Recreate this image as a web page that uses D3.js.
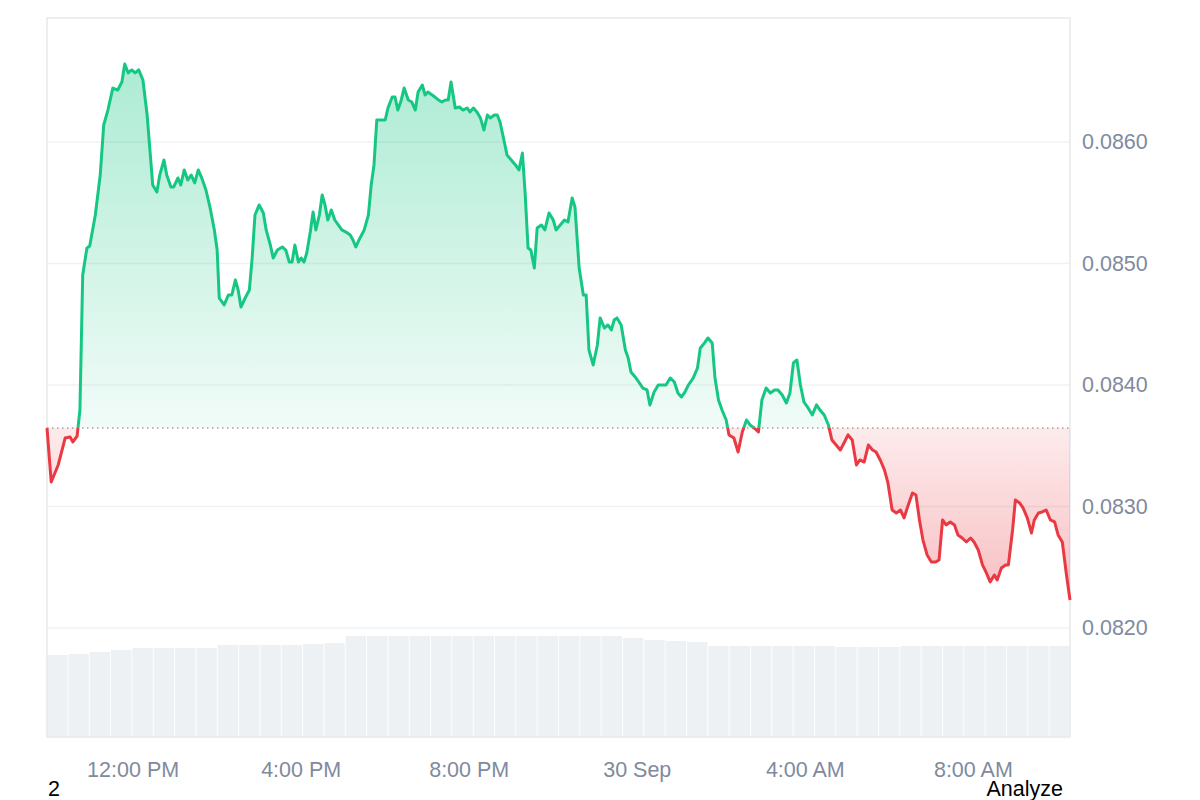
<!DOCTYPE html><html><head><meta charset="utf-8"><script src="https://cdn.jsdelivr.net/npm/d3@7"></script>
<style>body{margin:0;background:#fff}text{font-family:Arial,"Liberation Sans",sans-serif}</style></head><body><svg id="c" width="1200" height="800"></svg>
<script>
const startTime = new Date(2024,8,29,9,57);
const minutes = [0,6,16,26,33,37,43,47,51,57,61,69,76,81,87,94,101,107,111,116,121,126,131,137,143,147,151,157,161,167,171,177,181,187,191,196,201,206,211,216,221,227,233,239,243,246,253,259,264,269,273,277,283,289,293,297,303,309,313,319,323,329,336,341,346,350,354,359,363,367,371,376,380,384,389,393,397,401,406,411,416,421,427,433,437,441,447,453,459,463,467,471,477,483,487,493,497,501,506,510,516,521,526,530,536,540,544,550,554,559,564,569,573,577,583,589,594,600,604,609,614,619,624,629,633,639,643,647,651,657,663,669,674,679,683,687,691,696,700,706,711,717,723,727,733,739,744,750,754,760,766,770,774,780,786,790,796,801,806,810,814,820,826,830,834,840,846,851,857,861,867,873,879,884,890,896,901,906,911,916,923,929,933,939,944,950,954,959,964,970,974,981,987,993,999,1004,1010,1016,1021,1027,1033,1039,1044,1050,1056,1061,1066,1071,1076,1081,1087,1093,1099,1104,1110,1116,1121,1127,1133,1139,1144,1150,1156,1161,1167,1173,1179,1184,1190,1196,1201,1207,1213,1219,1224,1230,1236,1241,1246,1251,1257,1263,1269,1274,1279,1284,1290,1296,1301,1307,1313,1319,1324,1330,1336,1341,1347,1353,1357,1363,1369,1373,1379,1383,1389,1394,1400,1406,1410,1416,1421,1427,1433,1439,1444,1450,1456,1461];
const prices = [0.083646,0.083202,0.083342,0.083564,0.083572,0.083531,0.083580,0.083794,0.084905,0.085128,0.085144,0.085399,0.085728,0.086140,0.086263,0.086444,0.086428,0.086494,0.086642,0.086568,0.086593,0.086568,0.086593,0.086510,0.086222,0.085934,0.085646,0.085588,0.085728,0.085852,0.085728,0.085630,0.085630,0.085704,0.085646,0.085770,0.085687,0.085728,0.085663,0.085770,0.085704,0.085605,0.085457,0.085276,0.085111,0.084716,0.084659,0.084741,0.084741,0.084864,0.084782,0.084642,0.084716,0.084782,0.085045,0.085399,0.085482,0.085416,0.085276,0.085152,0.085045,0.085111,0.085136,0.085111,0.085012,0.085012,0.085152,0.085012,0.085045,0.085012,0.085086,0.085259,0.085424,0.085276,0.085399,0.085564,0.085482,0.085358,0.085440,0.085358,0.085317,0.085276,0.085259,0.085235,0.085193,0.085136,0.085210,0.085276,0.085399,0.085646,0.085811,0.086181,0.086181,0.086181,0.086280,0.086370,0.086370,0.086263,0.086346,0.086444,0.086346,0.086329,0.086263,0.086412,0.086469,0.086387,0.086412,0.086387,0.086370,0.086346,0.086329,0.086346,0.086346,0.086494,0.086280,0.086288,0.086263,0.086280,0.086247,0.086280,0.086247,0.086198,0.086099,0.086222,0.086198,0.086222,0.086222,0.086165,0.086058,0.085893,0.085852,0.085811,0.085770,0.085909,0.085564,0.085128,0.085111,0.084963,0.085292,0.085317,0.085276,0.085416,0.085358,0.085276,0.085317,0.085358,0.085342,0.085539,0.085465,0.084963,0.084741,0.084741,0.084288,0.084165,0.084329,0.084552,0.084469,0.084494,0.084453,0.084535,0.084552,0.084494,0.084288,0.084222,0.084107,0.084066,0.084017,0.083975,0.083959,0.083836,0.083942,0.084000,0.084000,0.084000,0.084058,0.084025,0.083934,0.083901,0.083942,0.084000,0.084058,0.084140,0.084305,0.084346,0.084387,0.084346,0.084058,0.083877,0.083794,0.083712,0.083589,0.083564,0.083449,0.083613,0.083712,0.083671,0.083646,0.083613,0.083877,0.083975,0.083934,0.083959,0.083959,0.083918,0.083852,0.083934,0.084181,0.084206,0.084000,0.083860,0.083811,0.083753,0.083836,0.083794,0.083753,0.083671,0.083547,0.083506,0.083465,0.083531,0.083589,0.083547,0.083342,0.083383,0.083366,0.083506,0.083465,0.083449,0.083383,0.083301,0.083194,0.082971,0.082947,0.082971,0.082906,0.083013,0.083111,0.083095,0.082889,0.082724,0.082601,0.082543,0.082543,0.082560,0.082889,0.082848,0.082873,0.082848,0.082766,0.082741,0.082708,0.082741,0.082708,0.082642,0.082519,0.082461,0.082379,0.082436,0.082395,0.082494,0.082519,0.082519,0.082807,0.083054,0.083029,0.082988,0.082906,0.082782,0.082889,0.082947,0.082955,0.082971,0.082889,0.082873,0.082766,0.082708,0.082436,0.082231];
const volumes = [82,83,85,87,89,89,89,89,92,92,92,92,93,94,101,101,101,101,101,101,101,101,101,101,101,101,101,99,97,96,95,91,91,91,91,91,91,90,90,90,91,91,91,91,91,91,91,91];
const yTicks = [0.0820,0.0830,0.0840,0.0850,0.0860];
const xTickTimes = [new Date(2024,8,29,12),new Date(2024,8,29,16),new Date(2024,8,29,20),new Date(2024,8,30,0),new Date(2024,8,30,4),new Date(2024,8,30,8)];
const xTickLabels = ["12:00 PM","4:00 PM","8:00 PM","30 Sep","4:00 AM","8:00 AM"];

const svg=d3.select("#c");
const L=47,R=1070,T=18,B=737;
const endTime=new Date(+startTime+minutes[minutes.length-1]*60000);
const x=d3.scaleTime().domain([startTime,endTime]).range([L,R]);
const y=d3.scaleLinear().domain([0.0820,0.0860]).range([628,142]);
const vy=d3.scaleLinear().domain([0,107]).range([B,630]);
const data=minutes.map((m,i)=>({t:new Date(+startTime+m*60000),p:prices[i]}));
const base=prices[0], by=y(base);

svg.append("g").selectAll("line").data(yTicks).join("line").attr("x1",L).attr("x2",R).attr("y1",d=>y(d)).attr("y2",d=>y(d)).attr("stroke","#eff2f5").attr("stroke-width",1.5);
const vx=d3.scaleBand().domain(d3.range(volumes.length)).range([L,R]).paddingInner(0.04);
svg.append("g").selectAll("rect").data(volumes).join("rect").attr("x",(d,i)=>vx(i)).attr("width",vx.bandwidth()).attr("y",d=>vy(d)).attr("height",d=>B-vy(d)).attr("fill","#eef1f4");
svg.append("rect").attr("x",L).attr("y",T).attr("width",R-L).attr("height",B-T).attr("fill","none").attr("stroke","#e6e9ed").attr("stroke-width",1.5);

const defs=svg.append("defs");
defs.append("clipPath").attr("id","above").append("rect").attr("x",0).attr("y",0).attr("width",1200).attr("height",by);
defs.append("clipPath").attr("id","below").append("rect").attr("x",0).attr("y",by).attr("width",1200).attr("height",800-by);
const gg=defs.append("linearGradient").attr("id","gg").attr("gradientUnits","userSpaceOnUse").attr("x1",0).attr("x2",0).attr("y1",y(0.0866)).attr("y2",by);
gg.append("stop").attr("offset",0).attr("stop-color","#16c784").attr("stop-opacity",0.35);
gg.append("stop").attr("offset",1).attr("stop-color","#16c784").attr("stop-opacity",0.06);
const rg=defs.append("linearGradient").attr("id","rg").attr("gradientUnits","userSpaceOnUse").attr("x1",0).attr("x2",0).attr("y1",by).attr("y2",y(0.0824));
rg.append("stop").attr("offset",0).attr("stop-color","#ea3943").attr("stop-opacity",0.1);
rg.append("stop").attr("offset",1).attr("stop-color","#ea3943").attr("stop-opacity",0.3);

const area=d3.area().x(d=>x(d.t)).y0(by).y1(d=>y(d.p));
const line=d3.line().x(d=>x(d.t)).y(d=>y(d.p));
svg.append("path").datum(data).attr("d",area).attr("fill","url(#gg)").attr("clip-path","url(#above)");
svg.append("path").datum(data).attr("d",area).attr("fill","url(#rg)").attr("clip-path","url(#below)");
svg.append("line").attr("x1",L).attr("x2",R).attr("y1",by).attr("y2",by).attr("stroke","#777").attr("stroke-dasharray","1.5,3.5");
svg.append("path").datum(data).attr("d",line).attr("fill","none").attr("stroke","#16c784").attr("stroke-width",3).attr("stroke-linejoin","round").attr("clip-path","url(#above)");
svg.append("path").datum(data).attr("d",line).attr("fill","none").attr("stroke","#ea3943").attr("stroke-width",3).attr("stroke-linejoin","round").attr("clip-path","url(#below)");

svg.append("g").selectAll("text").data(yTicks).join("text").attr("x",1082).attr("y",d=>y(d)+7).attr("fill","#808a9d").attr("font-size",21.5).text(d=>d.toFixed(4));
svg.append("g").selectAll("text").data(xTickTimes).join("text").attr("x",d=>x(d)).attr("y",777).attr("text-anchor","middle").attr("fill","#808a9d").attr("font-size",21.5).text((d,i)=>xTickLabels[i]);
svg.append("text").attr("x",48).attr("y",796).attr("font-size",21.5).attr("fill","#000").text("2");
svg.append("text").attr("x",1063).attr("y",796).attr("text-anchor","end").attr("font-size",21.5).attr("fill","#000").text("Analyze");
</script></body></html>
